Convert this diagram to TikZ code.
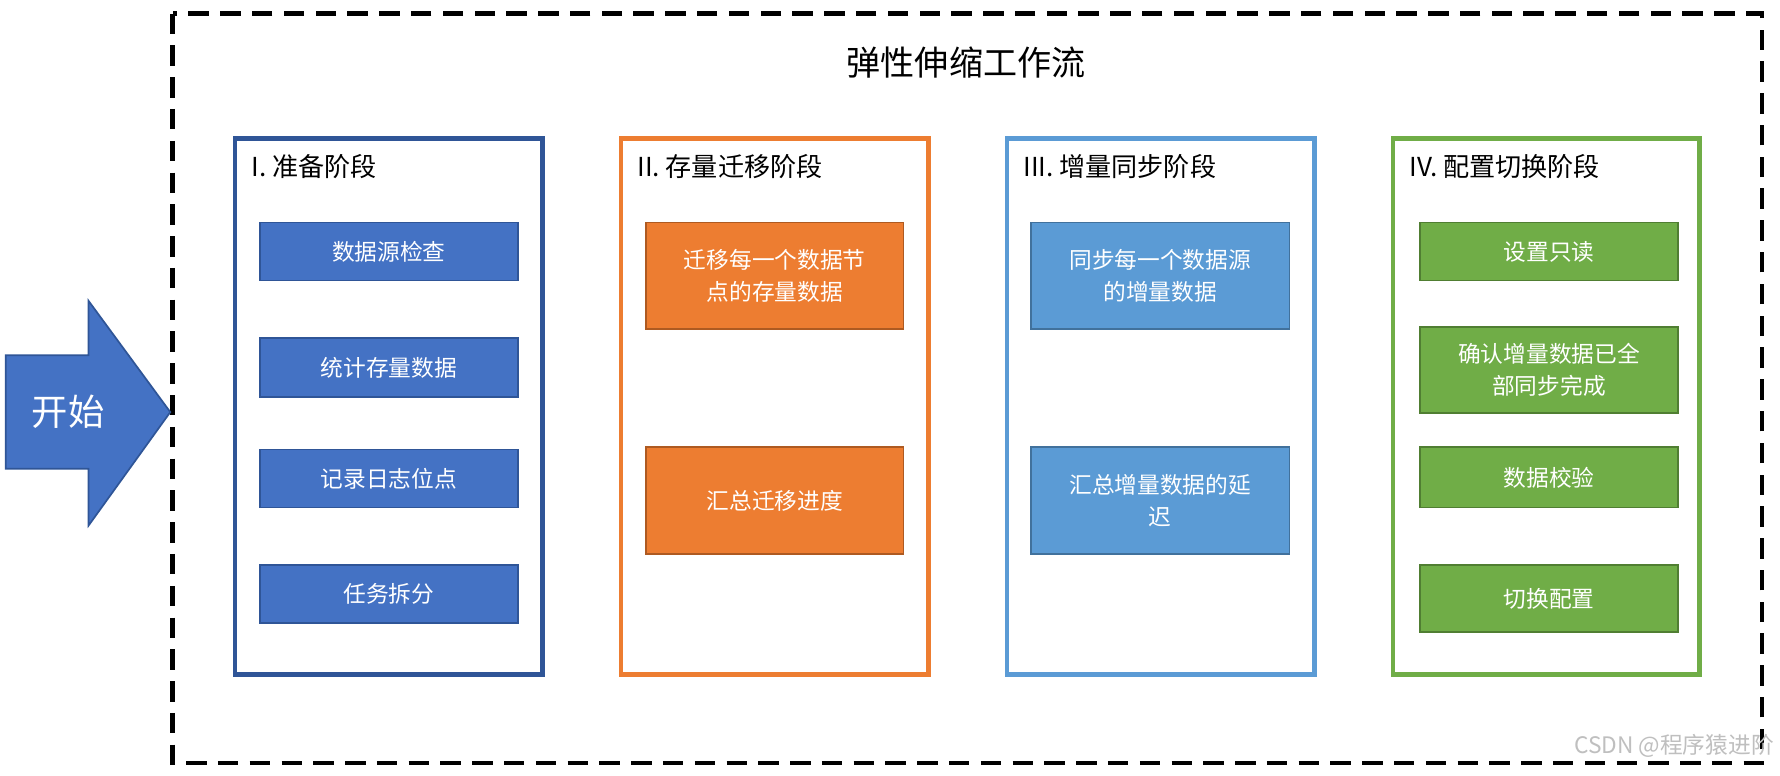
\documentclass[tikz,border=0pt]{standalone}
\usepackage{fontspec}
\setmainfont{Noto Sans CJK SC}
\usetikzlibrary{shapes.arrows}
\definecolor{bA}{HTML}{4472C4}\definecolor{bAd}{HTML}{2F5597}
\definecolor{oA}{HTML}{ED7D31}\definecolor{oAd}{HTML}{AE5A21}
\definecolor{lA}{HTML}{5B9BD5}\definecolor{lAd}{HTML}{41719C}
\definecolor{gA}{HTML}{70AD47}\definecolor{gAd}{HTML}{507E32}
\tikzset{
 panel/.style={line width=4pt},
 ptitle/.style={anchor=west,font=\fontsize{23}{26}\selectfont},
 task/.style={line width=1.5pt,text=white,align=center,font=\fontsize{20}{28}\selectfont},
}
\begin{document}
\begin{tikzpicture}[x=1pt,y=-1pt]
\useasboundingbox (0,0) rectangle (1568,683);
\fill[white] (0,0) rectangle (1568,683);
\draw[line width=4pt,dash pattern=on 18pt off 10pt] (152,12) rectangle (1552,672);
\node[font=\fontsize{30}{34}\selectfont] (title) at (851,55) {弹性伸缩工作流};
% start arrow
\draw[fill=bA,draw=bAd,line width=1.5pt] (5,313) -- (78,313) -- (78,265) -- (150,363) -- (78,463) -- (78,413) -- (5,413) -- cycle;
\node[text=white,font=\fontsize{32}{36}\selectfont] (start) at (60,363) {开始};
% panels
\draw[panel,draw=bAd] (207,122) rectangle (478,594);
\node[ptitle] (p1) at (218,147) {I. 准备阶段};
\draw[panel,draw=oA] (547,122) rectangle (818,594);
\node[ptitle] (p2) at (558,147) {II. 存量迁移阶段};
\draw[panel,draw=lA] (887,122) rectangle (1158,594);
\node[ptitle] (p3) at (898,147) {III. 增量同步阶段};
\draw[panel,draw=gA] (1227,122) rectangle (1497,594);
\node[ptitle] (p4) at (1238,147) {IV. 配置切换阶段};
% boxes
\newcommand{\tbox}[7]{\draw[task,fill=#1,draw=#2] (#3,#4) rectangle (#5,#6) node[midway,task,draw=none] {#7};}
\tbox{bA}{bAd}{229}{196}{456}{247}{数据源检查}
\tbox{bA}{bAd}{229}{298}{456}{350}{统计存量数据}
\tbox{bA}{bAd}{229}{396}{456}{447}{记录日志位点}
\tbox{bA}{bAd}{229}{498}{456}{549}{任务拆分}
\tbox{oA}{oAd}{569}{196}{796}{290}{迁移每一个数据节\\点的存量数据}
\tbox{oA}{oAd}{569}{394}{796}{488}{汇总迁移进度}
\tbox{lA}{lAd}{908}{196}{1136}{290}{同步每一个数据源\\的增量数据}
\tbox{lA}{lAd}{908}{394}{1136}{488}{汇总增量数据的延\\迟}
\tbox{gA}{gAd}{1251}{196}{1478}{247}{设置只读}
\tbox{gA}{gAd}{1251}{288}{1478}{364}{确认增量数据已全\\部同步完成}
\tbox{gA}{gAd}{1251}{394}{1478}{447}{数据校验}
\tbox{gA}{gAd}{1251}{498}{1478}{557}{切换配置}
\node[text=black!25,font=\fontsize{20}{24}\selectfont,anchor=east] (wm) at (1566,657) {CSDN @程序猿进阶};
\end{tikzpicture}
\end{document}
